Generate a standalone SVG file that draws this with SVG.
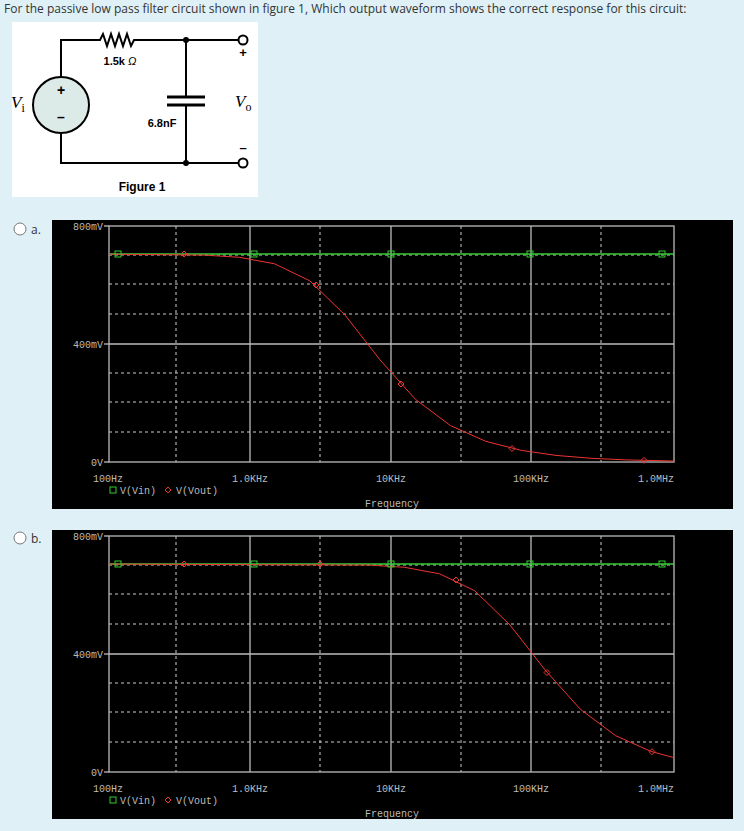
<svg xmlns="http://www.w3.org/2000/svg" width="744" height="831" viewBox="0 0 744 831">
<style>
.t{font-family:"Open Sans","Liberation Sans",sans-serif;fill:#333}
.w{stroke:#000;stroke-width:2;fill:none}
.m{font-family:"Liberation Mono",monospace;font-size:10px;fill:#bbb}
.g{stroke:#ccc;stroke-width:1;stroke-dasharray:3,3}
.ax{stroke:#bbb;stroke-width:1.3}
.vin{stroke:#3c3;stroke-width:1.3;fill:none}
.vout{stroke:#e33;stroke-width:1;fill:none}
.sq{fill:none;stroke:#3c3;stroke-width:1}
.dm{fill:none;stroke:#e33;stroke-width:1}
</style>
<defs>
<g id="grid">
<rect x="52" y="0" width="681" height="289" fill="#000"/>
<g class="g">
<line x1="109" y1="35" x2="674" y2="35"/><line x1="109" y1="64" x2="674" y2="64"/><line x1="109" y1="94" x2="674" y2="94"/>
<line x1="109" y1="153" x2="674" y2="153"/><line x1="109" y1="182" x2="674" y2="182"/><line x1="109" y1="212" x2="674" y2="212"/>
<line x1="176" y1="6" x2="176" y2="242"/><line x1="320" y1="6" x2="320" y2="242"/><line x1="461" y1="6" x2="461" y2="242"/><line x1="601" y1="6" x2="601" y2="242"/>
</g>
<g class="ax">
<rect x="109" y="6" width="565" height="236" fill="none"/>
<line x1="109" y1="124" x2="674" y2="124"/>
<line x1="250" y1="6" x2="250" y2="242"/><line x1="391" y1="6" x2="391" y2="242"/><line x1="531" y1="6" x2="531" y2="242"/>
<line x1="104" y1="6" x2="109" y2="6"/><line x1="104" y1="124" x2="109" y2="124"/><line x1="104" y1="242" x2="109" y2="242"/>
</g>
<text class="m" x="103" y="10" text-anchor="end">800mV</text>
<text class="m" x="103" y="128" text-anchor="end">400mV</text>
<text class="m" x="103" y="246" text-anchor="end">0V</text>
<text class="m" x="93" y="262">100Hz</text>
<text class="m" x="250" y="262" text-anchor="middle">1.0KHz</text>
<text class="m" x="391" y="262" text-anchor="middle">10KHz</text>
<text class="m" x="531" y="262" text-anchor="middle">100KHz</text>
<text class="m" x="674" y="262" text-anchor="end">1.0MHz</text>
<rect x="110" y="267" width="6" height="6" class="sq"/>
<text class="m" x="120" y="274">V(Vin)</text>
<path d="M168 267 l3 3 l-3 3 l-3 -3z" class="dm"/>
<text class="m" x="176" y="274">V(Vout)</text>
<text class="m" x="392" y="287" text-anchor="middle">Frequency</text>
<line x1="109" y1="34" x2="674" y2="34" class="vin"/>
</g>
</defs>
<rect width="744" height="831" fill="#dff0f7"/>
<text class="t" x="4" y="13" font-size="12">For the passive low pass filter circuit shown in figure 1, Which output waveform shows the correct response for this circuit:</text>
<g id="circuit">
<rect x="12" y="22" width="246" height="175" fill="#fff"/>
<path class="w" d="M61 77 V40 H100 l3 -6 l4 12 l4 -12 l4 12 l4 -12 l4 12 l4 -12 l4 12 l3 -6 H238 M61 133 V163 H238 M186 40 V97 M186 105 V163"/>
<path d="M167 97 H205 M167 105 H205" stroke="#000" stroke-width="3"/>
<circle cx="186" cy="40" r="3"/><circle cx="186" cy="163" r="3"/>
<circle cx="243" cy="40" r="4.5" fill="#fff" stroke="#000" stroke-width="2"/>
<circle cx="243" cy="163" r="4.5" fill="#fff" stroke="#000" stroke-width="2"/>
<circle cx="61" cy="105" r="28" fill="#dceae8" stroke="#000" stroke-width="2"/>
<text x="61" y="95" font-family="Liberation Sans,sans-serif" font-size="14" font-weight="bold" text-anchor="middle">+</text>
<text x="61" y="122" font-family="Liberation Sans,sans-serif" font-size="14" font-weight="bold" text-anchor="middle">–</text>
<text x="243" y="57" font-family="Liberation Sans,sans-serif" font-size="13" font-weight="bold" text-anchor="middle">+</text>
<text x="243" y="152" font-family="Liberation Sans,sans-serif" font-size="13" font-weight="bold" text-anchor="middle">–</text>
<text x="120" y="65" font-family="Liberation Sans,sans-serif" font-size="11" font-weight="bold" text-anchor="middle">1.5k <tspan font-style="italic" font-weight="normal">Ω</tspan></text>
<text x="162" y="127" font-family="Liberation Sans,sans-serif" font-size="11" font-weight="bold" text-anchor="middle">6.8nF</text>
<text x="142" y="191" font-family="Liberation Sans,sans-serif" font-size="12" font-weight="bold" text-anchor="middle">Figure 1</text>
<text x="11" y="108" font-family="Liberation Serif,serif" font-size="17" font-style="italic">V<tspan font-size="12" font-style="normal" dy="4">i</tspan></text>
<text x="235" y="107" font-family="Liberation Serif,serif" font-size="17" font-style="italic">V<tspan font-size="12" font-style="normal" dy="4">o</tspan></text>
</g>
<g id="optA">
<circle cx="20" cy="229" r="6" fill="#fff" stroke="#777"/>
<text class="t" x="31" y="234" font-size="12">a.</text>
<use href="#grid" y="220"/>
<polyline class="vout" points="109,254.2 204,255.1 239.5,257.3 274.6,263.8 309.8,280.8 345,315 380.2,360.1 415.4,399.3 450.5,425.6 485.7,441.3 520.9,450.3 556,455.4 591.2,458.3 626.4,459.9 674,461"/>
<g class="sq"><rect x="115" y="251" width="6" height="6"/><rect x="251" y="251" width="6" height="6"/><rect x="388" y="251" width="6" height="6"/><rect x="527" y="251" width="6" height="6"/><rect x="659" y="251" width="6" height="6"/></g>
<g class="dm"><path d="M184 251 l3 3 l-3 3 l-3 -3z"/><path d="M316 282 l3 3 l-3 3 l-3 -3z"/><path d="M401 381 l3 3 l-3 3 l-3 -3z"/><path d="M512 445.5 l3 3 l-3 3 l-3 -3z"/><path d="M644 457.4 l3 3 l-3 3 l-3 -3z"/></g>
</g>
<g id="optB">
<circle cx="20" cy="538" r="6" fill="#fff" stroke="#777"/>
<text class="t" x="31" y="543" font-size="12">b.</text>
<use href="#grid" y="530"/>
<polyline class="vout" points="109,564.1 369.3,565.1 404.5,567.3 439.6,573.8 474.8,590.8 510,625 545.2,670.1 580.4,709.3 615.5,735.6 650.7,751.3 674,757.7"/>
<g class="sq"><rect x="115" y="561" width="6" height="6"/><rect x="251" y="561" width="6" height="6"/><rect x="388" y="561" width="6" height="6"/><rect x="527" y="561" width="6" height="6"/><rect x="659" y="561" width="6" height="6"/></g>
<g class="dm"><path d="M184 561 l3 3 l-3 3 l-3 -3z"/><path d="M320 561 l3 3 l-3 3 l-3 -3z"/><path d="M456 577 l3 3 l-3 3 l-3 -3z"/><path d="M547 669.5 l3 3 l-3 3 l-3 -3z"/><path d="M652 748.7 l3 3 l-3 3 l-3 -3z"/></g>
</g>
</svg>
